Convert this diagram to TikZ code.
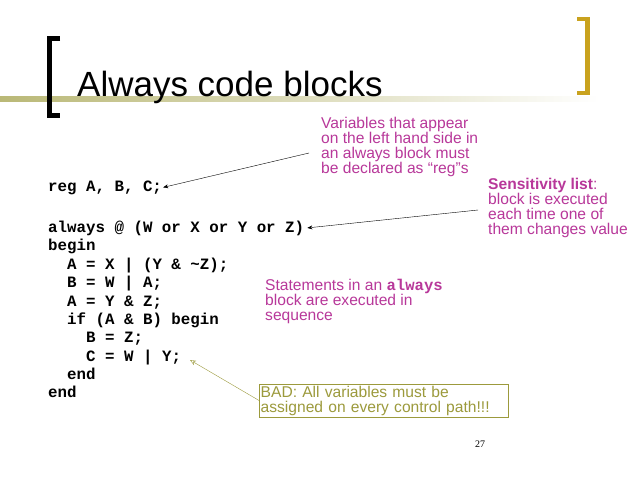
\documentclass[tikz,border=0pt]{standalone}
\usepackage{fontspec}
\setmainfont{Liberation Sans}
\newfontfamily\codefont{Liberation Mono}
\newfontfamily\serfont{Liberation Serif}
\usetikzlibrary{arrows.meta,shadings}
\definecolor{mag}{HTML}{B8389A}
\definecolor{oliv}{HTML}{9C9A3C}
\definecolor{gold}{HTML}{C9A21E}
\begin{document}
\begin{tikzpicture}[x=1pt,y=-1pt,
  code/.style={anchor=base west,inner sep=0,font=\codefont\bfseries\fontsize{15.8}{16}\selectfont},
  note/.style={anchor=north west,inner sep=0,align=left,text=mag,font=\fontsize{15.6}{15}\selectfont},
  arr/.style={-{Stealth[length=5pt,width=4pt]},thin}]
\useasboundingbox (0,0) rectangle (638,479);
\fill[white] (0,0) rectangle (638,479);
\shade[left color=oliv!70,right color=white] (0,96) rectangle (600,101);
\draw[line width=5pt] (60,38) -- (49.5,38) -- (49.5,115) -- (60,115);
\draw[gold,line width=4.5pt] (577,19) -- (587.5,19) -- (587.5,93) -- (577,93);
\node[anchor=base west,inner sep=0,font=\fontsize{35}{40}\selectfont] (title) at (77,96) {Always code blocks};
\node[code] (c1) at (48,191) {reg A, B, C;};
\node[code] (c2) at (48,232) {always @ (W or X or Y or Z)};
\node[code] (c3) at (48,250) {begin};
\node[code] (c4) at (67,269) {A = X | (Y \& \char`\~Z);};
\node[code] (c5) at (67,287) {B = W | A;};
\node[code] (c6) at (67,306) {A = Y \& Z;};
\node[code] (c7) at (67,324) {if (A \& B) begin};
\node[code] (c8) at (86,342) {B = Z;};
\node[code] (c9) at (86,361) {C = W | Y;};
\node[code] (c10) at (67,379) {end};
\node[code] (c11) at (48,397) {end};
\node[note] (n1) at (321,117) {Variables that appear\\on the left hand side in\\an always block must\\be declared as “reg”s};
\node[note] (n2) at (488,178) {{\bfseries Sensitivity list}:\\block is executed\\each time one of\\them changes value};
\node[note] (n3) at (265,279) {Statements in an {\codefont\bfseries always}\\block are executed in\\sequence};
\node[draw=oliv,anchor=north west,inner sep=1.5pt,align=left,text=oliv,font=\fontsize{15.6}{15}\selectfont,text width=246pt] (bad) at (259,384) {BAD: All variables must be\\assigned on every control path!!!};
\node[anchor=base,inner sep=0,font=\serfont\fontsize{10}{12}\selectfont] (pg) at (480,447) {27};
\coordinate (a1) at (309,153);
\coordinate (a2) at (478,210);
\draw[arr] (a1) -- ([xshift=1pt]c1.east);
\draw[arr] (a2) -- ([xshift=3pt]c2.east);
\draw[oliv,-{Stealth[length=6pt,width=5pt,open]}] (bad.west) -- (190,360);
\end{tikzpicture}
\end{document}
